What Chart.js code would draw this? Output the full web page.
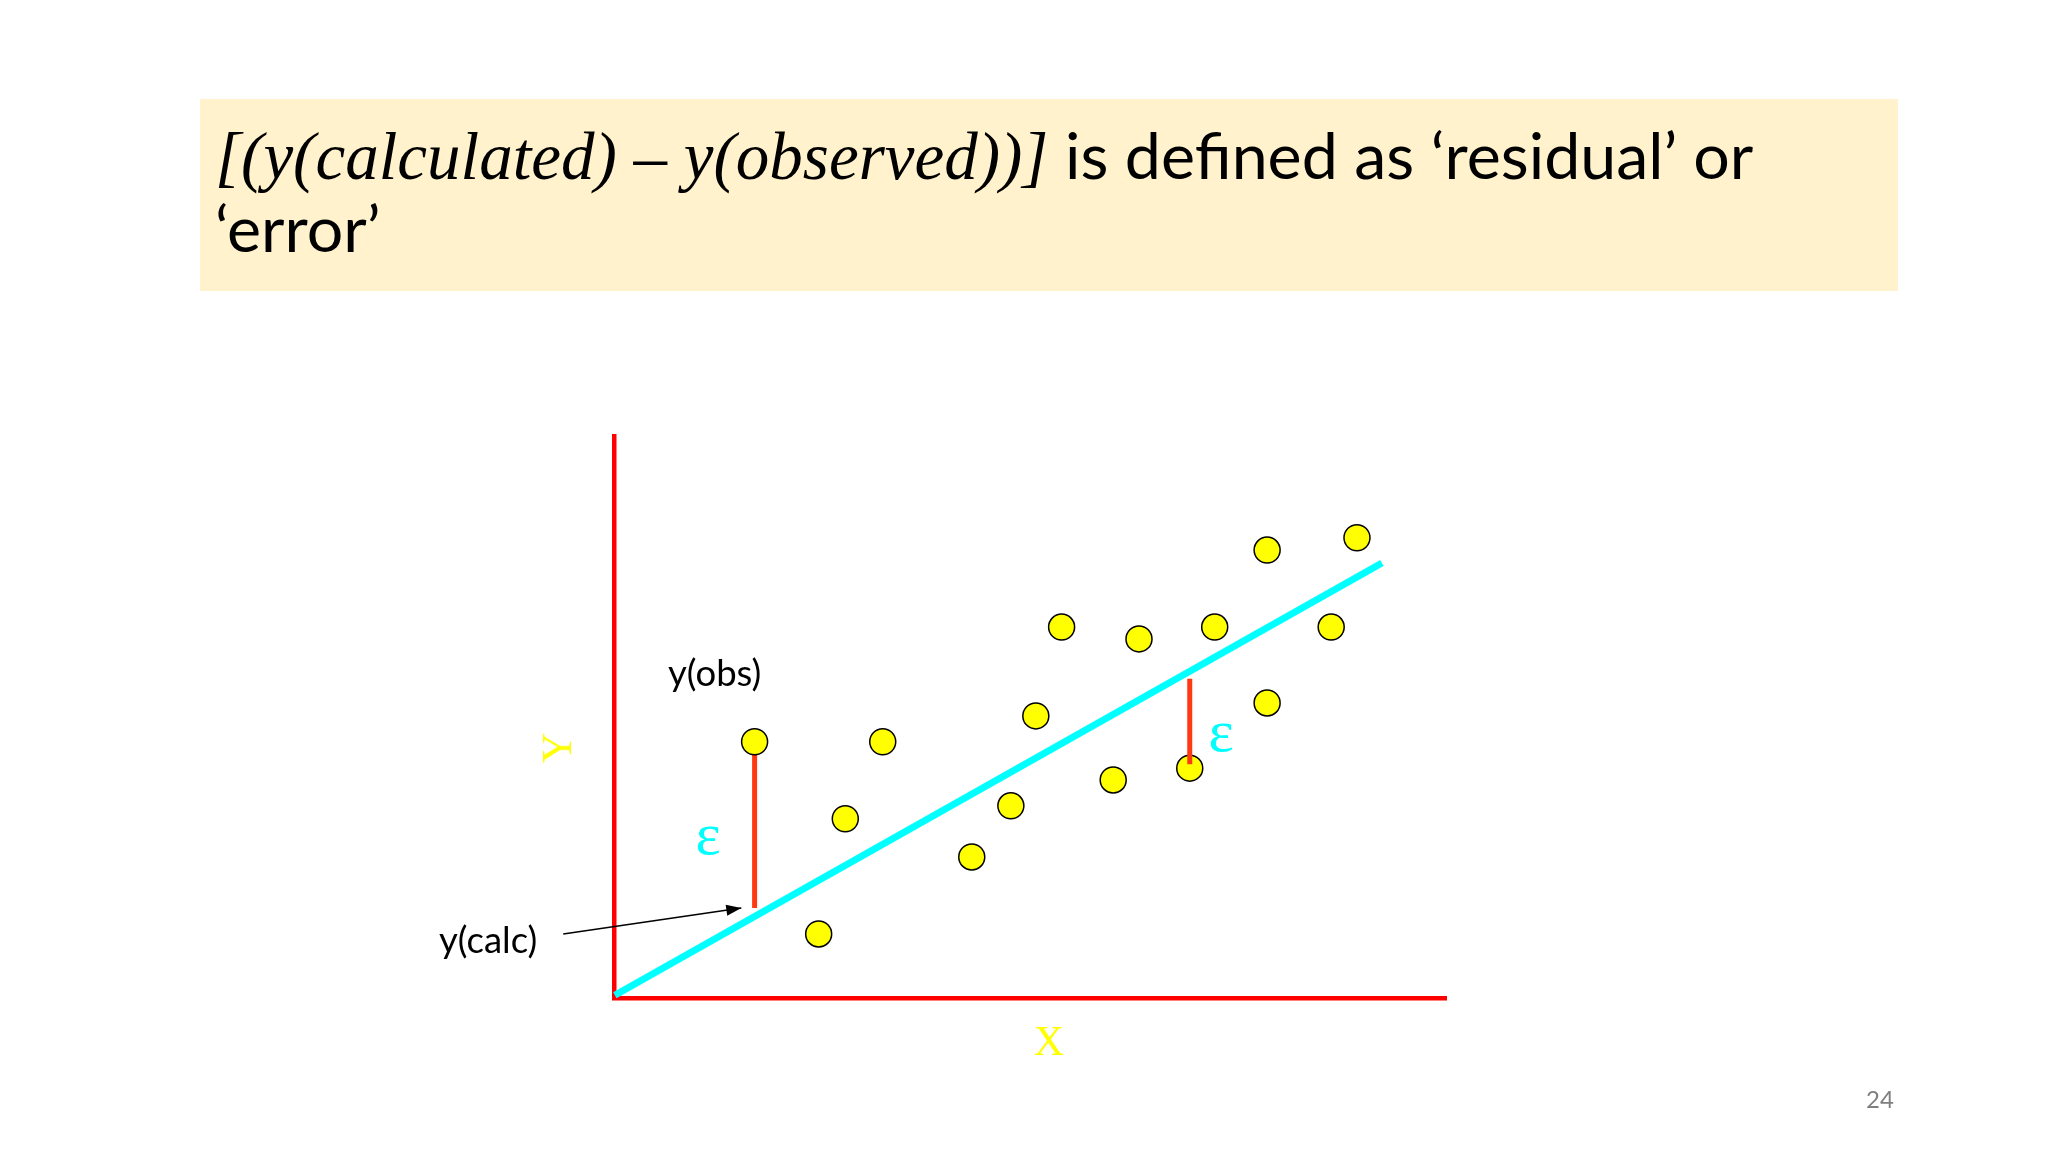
<!DOCTYPE html>
<html>
<head>
<meta charset="utf-8">
<script src="https://cdn.jsdelivr.net/npm/chart.js@4.4.1/dist/chart.umd.min.js"></script>
<style>
  body { margin: 0; background: #fff; }
  #page { position: relative; width: 2048px; height: 1152px; overflow: hidden; background: #fff; }
  #titleBox { position: absolute; left: 200px; top: 99px; width: 1698px; height: 192px; background: #FFF2CC; }
  #title { position: absolute; left: 215px; top: 119px; font-family: Lato, sans-serif; font-size: 64.5px; line-height: 71px; color: #000; white-space: nowrap; }
  #title i { font-family: "Liberation Serif", serif; font-size: 67px; }
  #chart { position: absolute; left: 0; top: 0; }
  .lbl { position: absolute; white-space: nowrap; line-height: 1; }
  .sans { font-family: Lato, sans-serif; font-size: 36.5px; color: #000; }
  .eps { font-family: "Liberation Serif", serif; font-size: 60px; color: #00FFFF; transform: translate(-50%, -50%); }
  .axisName { font-family: "Liberation Serif", serif; font-size: 42px; color: #FFFF00; }
  #pageNo { position: absolute; left: 1866px; top: 1084px; font-family: Lato, sans-serif; font-size: 24px; color: #7f7f7f; }
</style>
</head>
<body>
<div id="page">
  <div id="titleBox"></div>
  <div id="title"><i>[(y(calculated) – y(observed))]</i> is defined as ‘residual’ or<br>‘error’</div>
  <canvas id="chart" width="2048" height="1152"></canvas>
  <div class="lbl sans" style="left:668px; top:654px;">y(obs)</div>
  <div class="lbl sans" style="left:439px; top:921px;">y(calc)</div>
  <div class="lbl eps" style="left:708px; top:834px;">ε</div>
  <div class="lbl eps" style="left:1221px; top:731px;">ε</div>
  <div class="lbl axisName" style="left:557px; top:748px; transform: translate(-50%, -50%) rotate(-90deg);">Y</div>
  <div class="lbl axisName" style="left:1049px; top:1041px; transform: translate(-50%, -50%);">X</div>
  <div id="pageNo">24</div>
</div>
<script>
// observed points (axis units 0..10)
const obsX = [1.69, 3.23, 2.78, 2.46, 4.30, 4.77, 5.07, 5.38, 6.31, 6.00, 6.92, 7.22, 7.85, 7.85, 8.62, 8.93];
const obsY = [4.56, 4.56, 3.19, 1.14, 2.51, 3.42, 5.02, 6.60, 6.39, 3.88, 4.09, 6.60, 5.25, 7.97, 6.60, 8.19];

// fitted line ends
const fitX = [0.01, 9.23];
const fitY = [0.05, 7.74];

// residual bars: x, top, bottom
const residX = [1.69, 6.92];
const residTop = [4.56, 5.68];
const residBottom = [1.60, 4.16];

// arrow from y(calc) label to the line
const arrowX = [-0.61, 1.53];
const arrowY = [1.14, 1.60];

const toPts = (xs, ys) => xs.map((x, i) => ({x: x, y: ys[i]}));

const arrowHead = {
    id: 'arrowHead',
    afterDatasetsDraw(chart) {
        const meta = chart.getDatasetMeta(4);
        const a = meta.data[0], b = meta.data[1];
        const ang = Math.atan2(b.y - a.y, b.x - a.x);
        const ctx = chart.ctx;
        const len = 15, half = 5.5;
        ctx.save();
        ctx.fillStyle = '#000';
        ctx.beginPath();
        ctx.moveTo(b.x, b.y);
        ctx.lineTo(b.x - len * Math.cos(ang) + half * Math.sin(ang), b.y - len * Math.sin(ang) - half * Math.cos(ang));
        ctx.lineTo(b.x - len * Math.cos(ang) - half * Math.sin(ang), b.y - len * Math.sin(ang) + half * Math.cos(ang));
        ctx.closePath();
        ctx.fill();
        ctx.restore();
    }
};

const lineStyle = (color, width) => ({
    type: 'line', showLine: true, pointRadius: 0, borderColor: color,
    borderWidth: width, borderCapStyle: 'butt', fill: false, clip: false
});

new Chart(document.getElementById('chart'), {
    type: 'scatter',
    data: {
        datasets: [
            Object.assign(lineStyle('#00FFFF', 7), {data: toPts(fitX, fitY), order: 3}),
            Object.assign(lineStyle('#FF3A12', 5), {data: [{x: residX[0], y: residTop[0]}, {x: residX[0], y: residBottom[0]}], order: 2}),
            {
                data: toPts(obsX, obsY), order: 1, clip: false,
                pointRadius: 13, pointBackgroundColor: '#FFFF00',
                pointBorderColor: '#000', pointBorderWidth: 1.5
            },
            Object.assign(lineStyle('#FF3A12', 5), {data: [{x: residX[1], y: residTop[1]}, {x: residX[1], y: residBottom[1]}], order: 0}),
            Object.assign(lineStyle('#000', 1.5), {data: toPts(arrowX, arrowY), order: 0})
        ]
    },
    options: {
        responsive: false,
        animation: false,
        devicePixelRatio: 1,
        layout: {padding: {left: 614, top: 436, right: 602, bottom: 154}},
        plugins: {legend: {display: false}, tooltip: {enabled: false}},
        scales: {
            x: {
                type: 'linear', min: 0, max: 10,
                grid: {display: false, drawTicks: false},
                ticks: {display: false},
                border: {color: '#FF0000', width: 4.5}
            },
            y: {
                type: 'linear', min: 0, max: 10,
                grid: {display: false, drawTicks: false},
                ticks: {display: false},
                border: {color: '#FF0000', width: 4.5}
            }
        }
    },
    plugins: [arrowHead]
});
</script>
</body>
</html>
